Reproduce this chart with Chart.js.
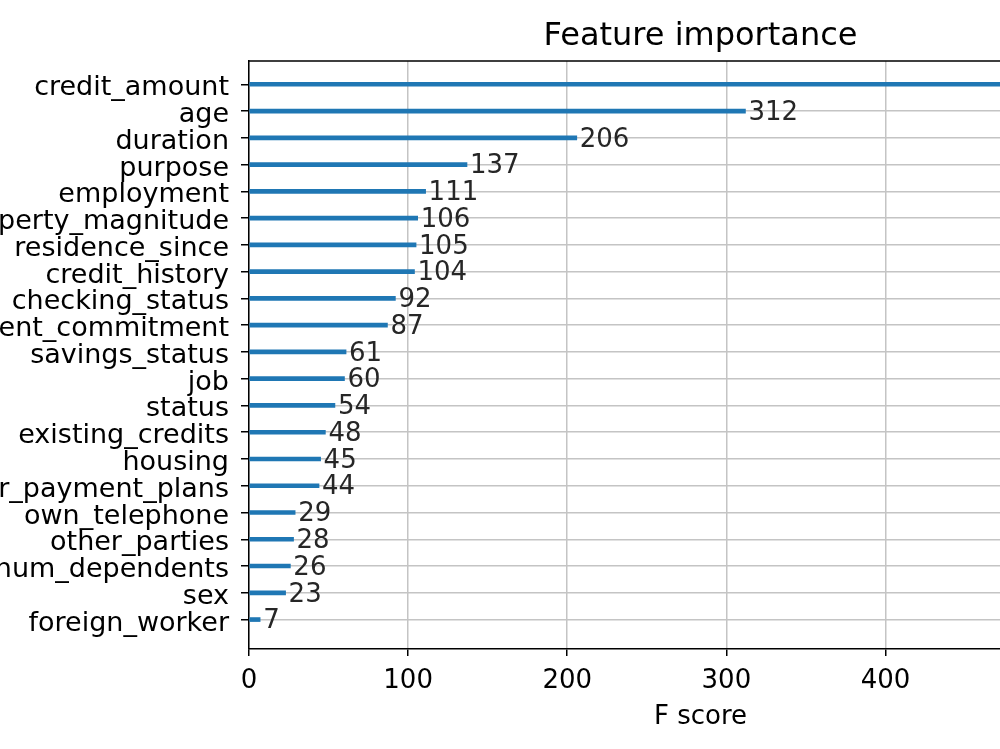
<!DOCTYPE html>
<html>
<head>
<meta charset="utf-8">
<script src="https://cdn.jsdelivr.net/npm/chart.js@4"></script>
<style>
  html, body { margin: 0; padding: 0; background: #fff; overflow: hidden; width: 1000px; height: 749px; }
  canvas { display: block; }
</style>
</head>
<body>
<canvas id="c" width="1160" height="749"></canvas>
<script>
const categories = ['credit_amount','age','duration','purpose','employment','property_magnitude','residence_since','credit_history','checking_status','installment_commitment','savings_status','job','status','existing_credits','housing','other_payment_plans','own_telephone','other_parties','num_dependents','sex','foreign_worker'];
const fScores = [516,312,206,137,111,106,105,104,92,87,61,60,54,48,45,44,29,28,26,23,7];
const xTickValues = [0,100,200,300,400,500];
const chartTitle = 'Feature importance';
const xAxisTitle = 'F score';

const FONT = "'DejaVu Sans', sans-serif";

const overlay = {
  id: 'overlay',
  afterDatasetsDraw(chart) {
    const ctx = chart.ctx;
    const meta = chart.getDatasetMeta(0);
    ctx.save();
    ctx.font = "26px " + FONT;
    ctx.fillStyle = '#262626';
    ctx.textAlign = 'left';
    ctx.textBaseline = 'middle';
    meta.data.forEach((bar, i) => {
      ctx.fillText(String(fScores[i]), bar.x + 3, bar.y + 2);
    });
    ctx.restore();
  },
  afterDraw(chart) {
    const ctx = chart.ctx;
    const a = chart.chartArea;
    ctx.save();
    ctx.strokeStyle = '#000';
    ctx.lineWidth = 1.5;
    ctx.beginPath();
    ctx.moveTo(a.left, a.top);
    ctx.lineTo(a.right, a.top);
    ctx.lineTo(a.right, a.bottom);
    ctx.stroke();
    ctx.font = "32px " + FONT;
    ctx.fillStyle = '#000';
    ctx.textAlign = 'center';
    ctx.textBaseline = 'alphabetic';
    ctx.fillText(chartTitle, (a.left + a.right) / 2, 45);
    ctx.restore();
  }
};

new Chart(document.getElementById('c'), {
  type: 'bar',
  data: {
    datasets: [{
      data: fScores.map((v, i) => ({ x: v, y: i })),
      backgroundColor: '#1f77b4',
      borderWidth: 0,
      barThickness: 4
    }]
  },
  options: {
    indexAxis: 'y',
    responsive: false,
    animation: false,
    devicePixelRatio: 1,
    layout: { padding: { left: 0, top: 61, right: 8, bottom: 0 } },
    plugins: { legend: { display: false }, tooltip: { enabled: false }, title: { display: false } },
    scales: {
      x: {
        type: 'linear',
        position: 'bottom',
        bounds: 'data',
        offset: false,
        min: 0,
        max: 567.5,
        afterBuildTicks: (s) => { s.ticks = xTickValues.map(v => ({ value: v })); },
        afterFit: (s) => { s.height = 100; },
        grid: { offset: false, color: '#c4c4c4', lineWidth: 1.5, tickColor: '#000', tickLength: 7, tickWidth: 1.5 },
        border: { color: '#000', width: 1.5 },
        ticks: { color: '#000', font: { family: FONT, size: 26 }, padding: 10, maxRotation: 0, autoSkip: false },
        title: { display: true, text: xAxisTitle, color: '#000', font: { family: FONT, size: 26 }, padding: { top: 0, bottom: 16 } }
      },
      y: {
        type: 'linear',
        reverse: true,
        bounds: 'data',
        offset: false,
        min: -0.87,
        max: 21.1,
        afterBuildTicks: (s) => { s.ticks = categories.map((_, i) => ({ value: i })); },
        afterFit: (s) => { s.width = 249; },
        grid: { offset: false, color: '#c4c4c4', lineWidth: 1.5, tickColor: '#000', tickLength: 8, tickWidth: 1.5 },
        border: { color: '#000', width: 1.5 },
        ticks: {
          color: '#000',
          font: { family: FONT, size: 27 },
          padding: 12,
          labelOffset: 4,
          autoSkip: false,
          callback: (v) => categories[v] !== undefined ? categories[v] : ''
        }
      }
    }
  },
  plugins: [overlay]
});
</script>
</body>
</html>
